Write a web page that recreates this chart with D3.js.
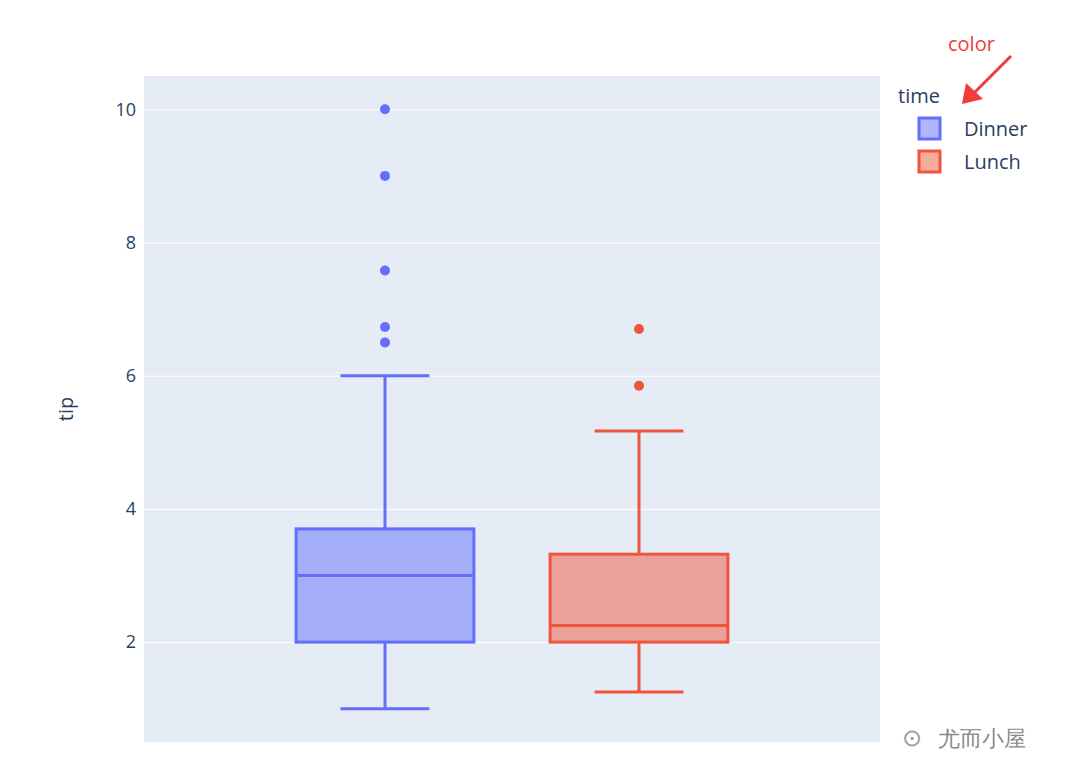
<!DOCTYPE html>
<html><head><meta charset="utf-8">
<script src="https://cdn.jsdelivr.net/npm/d3@7"></script>
<style>body{margin:0;background:#fff}text{font-family:"Open Sans",Arial,sans-serif}</style>
</head><body><svg id="c" width="1080" height="784"></svg>
<script>
const groups = ['Dinner', 'Lunch'];
const colors = ['#636efa', '#EF553B'];
const q1 = [2.0, 2.0];
const median = [3.0, 2.25];
const q3 = [3.7, 3.32];
const lowerFence = [1.0, 1.25];
const upperFence = [6.0, 5.17];
const outliers = [[10, 9, 7.58, 6.73, 6.5], [6.7, 5.85]];
const yTicks = [2, 4, 6, 8, 10];

const svg = d3.select('#c');
const L = 144, R = 880, T = 76, B = 742;
const y = d3.scaleLinear().domain([0.5, 10.5]).range([B, T]);
const x = d3.scaleBand().domain(groups).range([L + 114, R - 114]);
const bw = x.bandwidth() * 0.7, ww = bw / 2;

svg.append('rect').attr('x', L).attr('y', T).attr('width', R - L).attr('height', B - T).attr('fill', '#e5ecf6');

const ya = svg.append('g').attr('transform', `translate(${L},0)`)
  .call(d3.axisLeft(y).tickValues(yTicks).tickSize(-(R - L)).tickPadding(8));
ya.select('.domain').remove();
ya.selectAll('line').attr('stroke', '#fff').attr('stroke-width', 1);
ya.selectAll('text').attr('font-size', 18).attr('fill', '#2a3f5f');

svg.append('text').attr('transform', `translate(73,409) rotate(-90)`).attr('text-anchor', 'middle')
  .attr('font-size', 20).attr('fill', '#2a3f5f').text('tip');

groups.forEach((g, i) => {
  const cx = x(g) + x.bandwidth() / 2, c = colors[i];
  const gg = svg.append('g').attr('stroke', c).attr('stroke-width', 3);
  gg.append('line').attr('x1', cx).attr('x2', cx).attr('y1', y(q3[i])).attr('y2', y(upperFence[i]));
  gg.append('line').attr('x1', cx).attr('x2', cx).attr('y1', y(q1[i])).attr('y2', y(lowerFence[i]));
  [upperFence[i], lowerFence[i]].forEach(v => gg.append('line').attr('x1', cx - ww / 2).attr('x2', cx + ww / 2).attr('y1', y(v)).attr('y2', y(v)));
  gg.append('rect').attr('x', cx - bw / 2).attr('width', bw).attr('y', y(q3[i])).attr('height', y(q1[i]) - y(q3[i]))
    .attr('fill', c).attr('fill-opacity', 0.5);
  gg.append('line').attr('x1', cx - bw / 2).attr('x2', cx + bw / 2).attr('y1', y(median[i])).attr('y2', y(median[i]));
  svg.selectAll(null).data(outliers[i]).enter().append('circle')
    .attr('cx', cx).attr('cy', d => y(d)).attr('r', 5).attr('fill', c);
});

// legend
svg.append('text').attr('x', 898).attr('y', 103).attr('font-size', 20).attr('fill', '#2a3f5f').text('time');
groups.forEach((g, i) => {
  const ly = 118 + i * 33;
  svg.append('rect').attr('x', 919).attr('y', ly).attr('width', 21).attr('height', 21)
    .attr('fill', colors[i]).attr('fill-opacity', 0.5).attr('stroke', colors[i]).attr('stroke-width', 3);
  svg.append('text').attr('x', 964).attr('y', ly + 18).attr('font-size', 20).attr('fill', '#2a3f5f').text(g);
});

// annotation
svg.append('text').attr('x', 948).attr('y', 51).attr('font-size', 20).attr('fill', '#f03c3c').text('color');
svg.append('line').attr('x1', 1011).attr('y1', 56).attr('x2', 972).attr('y2', 95).attr('stroke', '#f03c3c').attr('stroke-width', 3);
svg.append('path').attr('d', 'M962,104 L966,83 L983,99 Z').attr('fill', '#f03c3c');

// watermark
svg.append('text').attr('x', 938).attr('y', 746).attr('font-size', 22).attr('fill', '#8a8a8a')
  .attr('font-family', '"Noto Sans CJK SC"').text('尤而小屋');
svg.append('text').attr('x', 902).attr('y', 746).attr('font-size', 24).attr('fill', '#9a9a9a').text('⊙');
</script></body></html>
